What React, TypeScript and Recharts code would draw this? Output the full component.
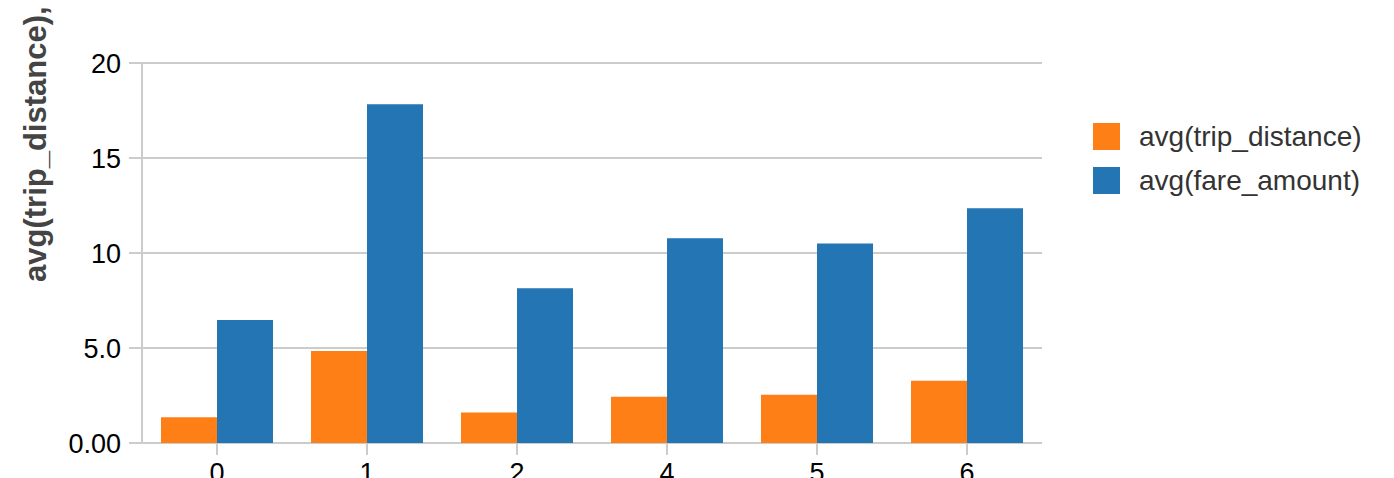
import React from "react";
import { BarChart, Bar, XAxis, YAxis, CartesianGrid, Legend } from "recharts";

// values
const days = ["0", "1", "2", "4", "5", "6"];
const tripDistance = [1.35, 4.84, 1.6, 2.44, 2.54, 3.28];
const fareAmount = [6.47, 17.83, 8.14, 10.77, 10.5, 12.35];
const yTicks = [0, 5, 10, 15, 20];
const yTickLabels = ["0.00", "5.0", "10", "15", "20"];

const seriesNames = ["avg(trip_distance)", "avg(fare_amount)"];
const colors = ["#fd7f15", "#2475b3"];

const data = days.map((d, i) => ({
  day: d,
  trip: tripDistance[i],
  fare: fareAmount[i],
}));

const font = '"Liberation Sans", Arial, Helvetica, sans-serif';
const gridColor = "#cccccc";

function YLabel() {
  return (
    <text
      x={46}
      y={282}
      transform="rotate(-90, 46, 282)"
      textAnchor="start"
      fontFamily={font}
      fontSize={31}
      fontWeight="bold"
      fill="#444"
    >
      {seriesNames.join(", ")}
    </text>
  );
}

function LegendBox() {
  return (
    <div style={{ fontFamily: font }}>
      {seriesNames.map((name, i) => (
        <div
          key={name}
          style={{ display: "flex", alignItems: "center", height: 27, marginBottom: 17 }}
        >
          <div style={{ width: 27, height: 27, background: colors[i] }} />
          <span style={{ marginLeft: 19, fontSize: 28, color: "#333", whiteSpace: "nowrap" }}>
            {name}
          </span>
        </div>
      ))}
    </div>
  );
}

export default function App() {
  return (
    <div style={{ position: "absolute", left: 0, top: 0, background: "#fff" }}>
      <BarChart
        width={1394}
        height={478}
        data={data}
        margin={{ top: 63, right: 52, bottom: 0, left: 0 }}
        barCategoryGap={19}
        barGap={0}
      >
        <CartesianGrid vertical={false} stroke={gridColor} strokeWidth={2} />
        <XAxis
          dataKey="day"
          axisLine={false}
          tickLine={{ stroke: gridColor, strokeWidth: 2 }}
          tickSize={12}
          tickMargin={8}
          height={35}
          tick={{ fontFamily: font, fontSize: 27, fill: "#000" }}
        />
        <YAxis
          width={142}
          domain={[0, 20]}
          ticks={yTicks}
          interval={0}
          axisLine={{ stroke: gridColor, strokeWidth: 2 }}
          tickLine={{ stroke: gridColor, strokeWidth: 2 }}
          tickSize={13}
          tickMargin={8}
          tick={{ fontFamily: font, fontSize: 27, fill: "#000" }}
          tickFormatter={(v: number) => yTickLabels[yTicks.indexOf(v)] ?? String(v)}
          label={<YLabel />}
        />
        <Legend
          layout="vertical"
          align="right"
          verticalAlign="top"
          content={<LegendBox />}
          wrapperStyle={{ left: 1093, top: 123, width: 300 }}
        />
        <Bar dataKey="trip" name={seriesNames[0]} fill={colors[0]} isAnimationActive={false} />
        <Bar dataKey="fare" name={seriesNames[1]} fill={colors[1]} isAnimationActive={false} />
      </BarChart>
    </div>
  );
}
